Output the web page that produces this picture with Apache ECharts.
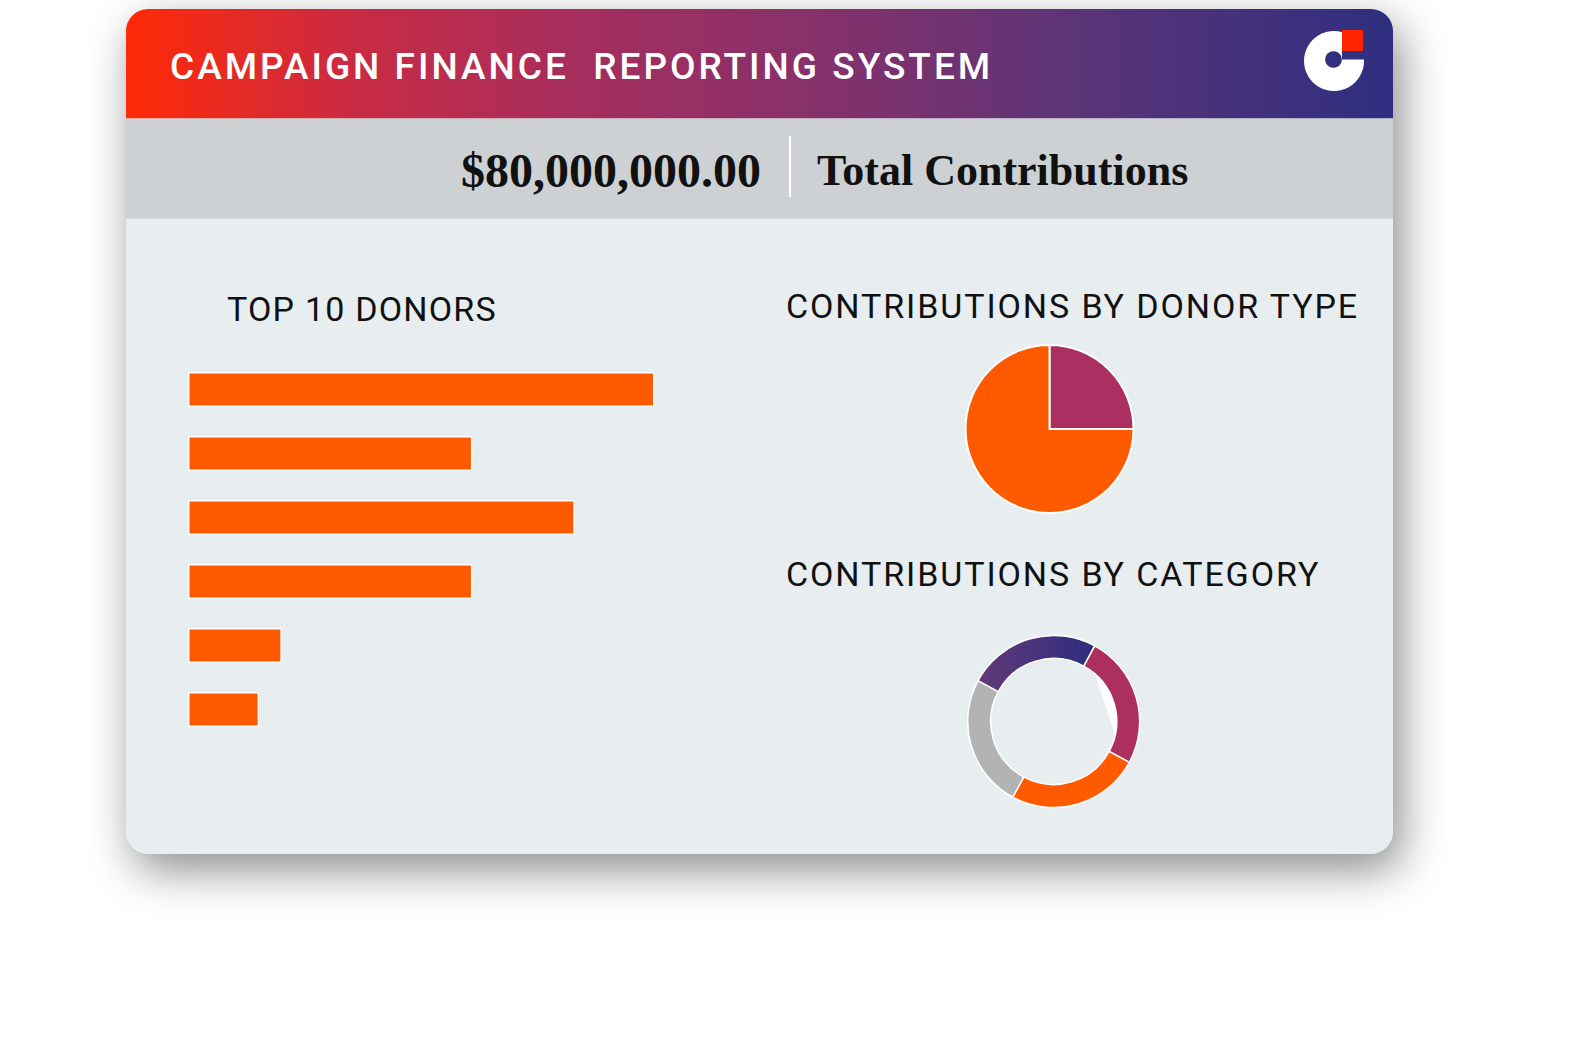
<!DOCTYPE html>
<html>
<head>
<meta charset="utf-8">
<script src="https://cdn.jsdelivr.net/npm/echarts@6/dist/echarts.min.js"></script>
<style>
  html, body { margin: 0; padding: 0; background: #fff; }
  #main { width: 1585px; height: 1046px; }
</style>
</head>
<body>
<div id="main"></div>
<script>
// top donors (millions of dollars)
const donorNames = ['Donor 1', 'Donor 2', 'Donor 3', 'Donor 4', 'Donor 5', 'Donor 6'];
const donorValues = [16.4, 10, 13.6, 10, 3.3, 2.5];

// contributions by donor type (percent)
const typeNames = ['Committees', 'Individuals'];
const typeValues = [25, 75];

// contributions by category (percent)
const categoryNames = ['Category A', 'Category B', 'Category C', 'Category D'];
const categoryValues = [25, 25, 25, 25];

const ORANGE = '#ff5a00';
const MAGENTA = '#ab2f60';
const HEADER_TITLE = 'CAMPAIGN FINANCE  REPORTING SYSTEM';
const SECTION_TITLES = ['TOP 10 DONORS', 'CONTRIBUTIONS BY DONOR TYPE', 'CONTRIBUTIONS BY CATEGORY'];
const SECTION_SPACING = ['1.2px', '1.9px', '1.9px'];

const donutCenter = [1053.7, 721.5];
const donutRadius = [63, 86];

const chart = echarts.init(document.getElementById('main'), null, { renderer: 'svg' });

const purpleGrad = new echarts.graphic.LinearGradient(0, 0, 1, 0, [
  { offset: 0, color: '#623a78' },
  { offset: 1, color: '#2e2c7e' }
]);

// little white sliver seen inside the donut hole in the original
function sliverPoints() {
  const pts = [];
  const r = donutRadius[0] - 0.5;
  for (let a = 41.5; a <= 102.5; a += 3) {
    const rad = a * Math.PI / 180;
    pts.push([donutCenter[0] + r * Math.sin(rad), donutCenter[1] - r * Math.cos(rad)]);
  }
  return pts;
}

const option = {
  backgroundColor: '#ffffff',
  animation: false,
  graphic: [
    // card with shadow
    {
      type: 'rect', z: -10,
      shape: { x: 126, y: 9, width: 1267, height: 845, r: 23 },
      style: { fill: '#e8edf0', shadowBlur: 45, shadowOffsetX: 8, shadowOffsetY: 16, shadowColor: 'rgba(0,0,0,0.45)' }
    },
    {
      type: 'rect', z: -9,
      shape: { x: 126, y: 9, width: 1267, height: 109.5, r: [22, 22, 0, 0] },
      style: {
        fill: new echarts.graphic.LinearGradient(0, 0, 1, 0, [
          { offset: 0, color: '#ff2906' },
          { offset: 0.18, color: '#c92b44' },
          { offset: 0.36, color: '#a52e5e' },
          { offset: 0.55, color: '#85316b' },
          { offset: 0.75, color: '#5c3477' },
          { offset: 1, color: '#2e2e80' }
        ])
      }
    },
    {
      type: 'rect', z: -9,
      shape: { x: 126, y: 118.5, width: 1267, height: 100 },
      style: { fill: '#cdd1d4' }
    },
    // header title
    {
      type: 'text', z: -8, x: 170, y: 66,
      style: {
        text: HEADER_TITLE,
        fill: '#ffffff', font: '500 37px Roboto',
        textAlign: 'left', textVerticalAlign: 'middle'
      }
    },
    // logo
    {
      type: 'circle', z: -8,
      shape: { cx: 1334, cy: 61, r: 30 },
      style: { fill: '#ffffff' }
    },
    {
      type: 'rect', z: -7,
      shape: { x: 1342, y: 28, width: 26, height: 31.5 },
      style: { fill: '#33307f' }
    },
    {
      type: 'circle', z: -7,
      shape: { cx: 1333.5, cy: 59.5, r: 8.3 },
      style: { fill: '#33307f' }
    },
    {
      type: 'rect', z: -6,
      shape: { x: 1342, y: 30, width: 21, height: 21 },
      style: { fill: '#ff2400' }
    },
    // totals band
    {
      type: 'text', z: -8, x: 761, y: 170,
      style: {
        text: '$80,000,000.00', fill: '#111111',
        font: 'bold 48px "Liberation Serif"',
        textAlign: 'right', textVerticalAlign: 'middle'
      }
    },
    {
      type: 'line', z: -8,
      shape: { x1: 790, y1: 136, x2: 790, y2: 197 },
      style: { stroke: '#ffffff', lineWidth: 2 }
    },
    {
      type: 'text', z: -8, x: 817, y: 170,
      style: {
        text: 'Total Contributions', fill: '#111111',
        font: 'bold 44px "Liberation Serif"',
        textAlign: 'left', textVerticalAlign: 'middle'
      }
    },
    // section titles
    {
      type: 'text', z: -8, x: 227, y: 309,
      style: {
        text: SECTION_TITLES[0], fill: '#111111', font: '34px Roboto',
        textAlign: 'left', textVerticalAlign: 'middle'
      }
    },
    {
      type: 'text', z: -8, x: 786, y: 306,
      style: {
        text: SECTION_TITLES[1], fill: '#111111', font: '34px Roboto',
        textAlign: 'left', textVerticalAlign: 'middle'
      }
    },
    {
      type: 'text', z: -8, x: 786, y: 574,
      style: {
        text: SECTION_TITLES[2], fill: '#111111', font: '34px Roboto',
        textAlign: 'left', textVerticalAlign: 'middle'
      }
    },
    {
      type: 'polygon', z: 5,
      shape: { points: sliverPoints() },
      style: { fill: '#ffffff' }
    }
  ],
  grid: { left: 188, top: 357.5, width: 512, height: 384 },
  xAxis: { type: 'value', min: 0, max: 18, show: false },
  yAxis: { type: 'category', data: donorNames, inverse: true, show: false },
  series: [
    {
      name: 'Top donors',
      type: 'bar',
      data: donorValues,
      barWidth: 35,
      itemStyle: { color: ORANGE, borderColor: '#ffffff', borderWidth: 1.5 }
    },
    {
      name: 'Donor type',
      type: 'pie',
      center: [1049.5, 429],
      radius: 84,
      startAngle: 90,
      label: { show: false },
      labelLine: { show: false },
      itemStyle: { borderColor: '#ffffff', borderWidth: 2 },
      data: typeNames.map((n, i) => ({
        name: n, value: typeValues[i],
        itemStyle: { color: [MAGENTA, ORANGE][i] }
      }))
    },
    {
      name: 'Category',
      type: 'pie',
      center: donutCenter,
      radius: donutRadius,
      startAngle: 61.6,
      label: { show: false },
      labelLine: { show: false },
      itemStyle: { borderColor: '#ffffff', borderWidth: 1.5 },
      data: categoryNames.map((n, i) => ({
        name: n, value: categoryValues[i],
        itemStyle: { color: ['#ad2f5f', ORANGE, '#b3b3b3', purpleGrad][i] }
      }))
    }
  ]
};

chart.setOption(option);

// tracking on the header and section titles
function spaceLetters() {
  document.querySelectorAll('#main svg text').forEach(function (t) {
    const s = t.textContent;
    const k = SECTION_TITLES.indexOf(s);
    if (s === HEADER_TITLE) t.setAttribute('letter-spacing', '3px');
    else if (k >= 0) t.setAttribute('letter-spacing', SECTION_SPACING[k]);
  });
}
spaceLetters();
chart.on('finished', spaceLetters);
</script>
</body>
</html>
